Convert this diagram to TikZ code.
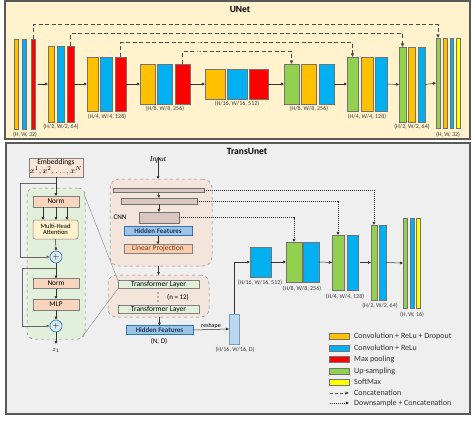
\documentclass[tikz,border=0pt]{standalone}
\usepackage{fontspec}
\setmainfont{Carlito}
\newfontfamily\serifit{Liberation Serif}
\usetikzlibrary{arrows.meta}
\definecolor{cor}{HTML}{FFC000}
\definecolor{cbl}{HTML}{00B0F0}
\definecolor{cre}{HTML}{FF0000}
\definecolor{cgr}{HTML}{92D050}
\definecolor{cye}{HTML}{FFFF00}
\definecolor{unetbg}{HTML}{FFF2CC}
\definecolor{tubg}{HTML}{EFEFEF}
\definecolor{pan}{HTML}{595959}
\definecolor{peach}{HTML}{F8CBAD}
\definecolor{lpeach}{HTML}{FBE5D6}
\definecolor{contbg}{HTML}{F3E4DC}
\definecolor{lgreen}{HTML}{E2EFDA}
\definecolor{tlgreen}{HTML}{E2F0D9}
\definecolor{lyel}{HTML}{FFF2CC}
\definecolor{hfblue}{HTML}{9DC3E6}
\definecolor{rblue}{HTML}{BDD7EE}
\definecolor{plusbl}{HTML}{DDEBF7}
\definecolor{plusdr}{HTML}{2E75B6}
\definecolor{cnnbar}{HTML}{D9C6C0}
\definecolor{hftext}{HTML}{1F3864}
\definecolor{lptext}{HTML}{843C0C}
\newcommand\myfs[1]{\fontsize{#1pt}{#1pt}\selectfont}
\newcommand\mkbar[6]{\node[bar,fill=#6,minimum width={(#4-#2)*1pt},minimum height={(#5-#3)*1pt}] (#1) at ({(#2+#4)/2},{(#3+#5)/2}) {};}
\begin{document}
\begin{tikzpicture}[x=1pt,y=-1pt,
  bar/.style={draw=black!55,line width=0.4pt,inner sep=0pt,outer sep=0pt},
  panel/.style={draw=pan,line width=1.5pt,inner sep=0pt,outer sep=0pt},
  lbl/.style={font=\myfs{6},text=black!75,inner sep=0pt},
  leg/.style={font=\myfs{8},text=black!80,inner sep=0pt,anchor=west},
  arr/.style={draw=black!80,line width=0.5pt,-{Triangle[length=3pt,width=2.6pt]}},
  concat/.style={draw=black!70,line width=1pt,dash pattern=on 4pt off 2.5pt,-{Triangle[length=3.5pt,width=3pt]}},
  dsc/.style={draw=black!80,line width=0.7pt,dash pattern=on 1.2pt off 0.8pt,-{Triangle[length=3.2pt,width=2.8pt]}},
  box/.style={draw=black!50,line width=0.5pt,inner sep=0pt,outer sep=0pt,align=center},
  cont/.style={draw=black!45,dashed,rounded corners=7pt,line width=0.5pt,inner sep=0pt,outer sep=0pt},
  dotc/.style={circle,fill=black,inner sep=0pt,minimum size=1.3pt},
  diag/.style={draw=black!45,line width=0.4pt}]
\useasboundingbox (0,0) rectangle (474,428);
% ---------------- UNet panel
\node[panel,fill=unetbg,minimum width=465pt,minimum height=138pt] (P1) at (237.5,70) {};
\node[font=\bfseries\myfs{9.5},inner sep=0pt] (t1) at (240,9) {UNet};
\mkbar{u1a}{14}{39}{18}{129}{cor}
\mkbar{u1b}{22}{39}{26}{129}{cbl}
\mkbar{u1c}{31}{39}{35}{129}{cre}
\mkbar{u2a}{48}{46}{54}{122}{cor}
\mkbar{u2b}{57}{46}{64}{122}{cbl}
\mkbar{u2c}{67}{46}{74}{122}{cre}
\mkbar{u3a}{87}{57}{98}{111}{cor}
\mkbar{u3b}{100}{57}{112}{111}{cbl}
\mkbar{u3c}{115}{57}{126}{111}{cre}
\mkbar{u4a}{140}{64}{155}{104}{cor}
\mkbar{u4b}{157}{64}{172}{104}{cbl}
\mkbar{u4c}{175}{64}{190}{104}{cre}
\mkbar{u5a}{205}{69}{225}{99}{cor}
\mkbar{u5b}{227}{69}{247}{99}{cbl}
\mkbar{u5c}{249}{69}{268}{99}{cre}
\mkbar{u6a}{284}{64}{299}{104}{cgr}
\mkbar{u6b}{301}{64}{316}{104}{cor}
\mkbar{u6c}{319}{64}{334}{104}{cbl}
\mkbar{u7a}{347}{57}{358}{111}{cgr}
\mkbar{u7b}{361}{57}{373}{111}{cor}
\mkbar{u7c}{375}{57}{387}{111}{cbl}
\mkbar{u8a}{399}{47}{406}{122}{cgr}
\mkbar{u8b}{408}{47}{415}{122}{cor}
\mkbar{u8c}{418}{47}{425}{122}{cbl}
\mkbar{u9a}{436}{38}{440}{128}{cgr}
\mkbar{u9b}{443}{38}{447}{128}{cor}
\mkbar{u9c}{450}{38}{453}{128}{cbl}
\mkbar{u9d}{456}{38}{460}{128}{cye}
\draw[arr,shorten <=3pt] (u1c.east) -- (u2a.west);
\draw[arr] (u2c.east) -- (u3a.west);
\draw[arr] (u3c.east) -- (u4a.west);
\draw[arr] (u4c.east) -- (u5a.west);
\draw[arr] (u5c.east) -- (u6a.west);
\draw[arr] (u6c.east) -- (u7a.west);
\draw[arr] (u7c.east) -- (u8a.west);
\draw[arr] (u8c.east) -- (u9a.west);
\node[lbl] (l1) at (25,135) {(H, W, 32)};
\node[lbl] (l2) at (61,127) {(H/2, W/2, 64)};
\node[lbl] (l3) at (107,117) {(H/4, W/4, 128)};
\node[lbl] (l4) at (165,109) {(H/8, W/8, 256)};
\node[lbl] (l5) at (237,104) {(H/16, W/16, 512)};
\node[lbl] (l6) at (309,109) {(H/8, W/8, 256)};
\node[lbl] (l7) at (367,117) {(H/4, W/4, 128)};
\node[lbl] (l8) at (412,127) {(H/2, W/2, 64)};
\node[lbl] (l9) at (448,135) {(H, W, 32)};
\coordinate (c1) at (200,25);
\coordinate (c2) at (200,34);
\coordinate (c3) at (200,43);
\coordinate (c4) at (200,52);
\draw[concat] (u1c.north) |- (c1) -| (u9a.north);
\draw[concat] (u2c.north) |- (c2) -| (u8a.north);
\draw[concat] (u3c.north) |- (c3) -| (u7a.north);
\draw[concat] (u4c.north) |- (c4) -| (u6a.north);
% ---------------- TransUnet panel
\node[panel,fill=tubg,minimum width=464pt,minimum height=271pt] (P2) at (238,278.5) {};
\node[font=\bfseries\myfs{9.5},inner sep=0pt] (t2) at (247,151) {TransUnet};
% left column: transformer layer detail
\node[box,fill=lpeach,minimum width=54pt,minimum height=19pt,font=\myfs{7.5}] (emb) at (56,167.5) {Embeddings\\[-0.5pt]{\myfs{8.5}$x^1, x^2, \dots, x^N$}};
\node[cont,fill=lgreen,minimum width=58pt,minimum height=151pt] (gcont) at (56,263.5) {};
\node[box,fill=peach!80,minimum width=46pt,minimum height=11pt,font=\myfs{7.3}] (n1) at (56,201.5) {Norm};
\node[box,fill=lyel,rounded corners=2pt,minimum width=45pt,minimum height=19pt,font=\myfs{6.5}] (mha) at (55.5,229.5) {Multi-Head\\Attention};
\node[circle,draw=plusdr,fill=plusbl,line width=0.6pt,minimum size=12pt,inner sep=0pt,font=\myfs{9}] (p1) at (56,257) {$+$};
\node[box,fill=peach!80,minimum width=46pt,minimum height=10pt,font=\myfs{7.3}] (n2) at (56,283.5) {Norm};
\node[box,fill=peach!80,minimum width=46pt,minimum height=11pt,font=\myfs{7.3}] (mlp) at (56,304.5) {MLP};
\node[circle,draw=plusdr,fill=plusbl,line width=0.6pt,minimum size=12pt,inner sep=0pt,font=\myfs{9}] (p2) at (56,326) {$+$};
\coordinate (zend) at (56,344);
\node[font=\myfs{7.5},inner sep=0pt] (z1) at (56,350) {$z_1$};
\draw[arr] (emb.south) -- (n1.north);
\draw[arr] ([xshift=-13pt]n1.south) -- ([xshift=-12.5pt]mha.north);
\draw[arr] (n1.south) -- ([xshift=0.5pt]mha.north);
\draw[arr] ([xshift=11pt]n1.south) -- ([xshift=11.5pt]mha.north);
\draw[arr] (mha.south) -- (p1.north);
\draw[arr] (p1.south) -- (n2.north);
\draw[arr] (n2.south) -- (mlp.north);
\draw[arr] (mlp.south) -- (p2.north);
\draw[arr] (p2.south) -- (zend);
\coordinate (br1) at (56,183);
\coordinate (lf1) at (20,183);
\coordinate (br2) at (56,268);
\coordinate (lf2) at (22,268);
\draw[arr,draw=black!60] (br1) -- (lf1) |- (p1.west);
\draw[arr,draw=black!60] (br2) -- (lf2) |- (p2.west);
% middle column: CNN + transformer
\node[font=\serifit\itshape\myfs{7.5},inner sep=0pt] (inp) at (158,160) {Input};
\node[cont,fill=contbg,rounded corners=9pt,minimum width=102pt,minimum height=87pt] (cnnc) at (161,222.5) {};
\draw[arr] ([yshift=6pt]inp.south) -- (inp.south |- cnnc.north);
\mkbar{b1}{113}{188}{204}{192}{cnnbar}
\mkbar{b2}{121}{198}{197}{204}{cnnbar}
\mkbar{b3}{139}{212}{179}{223}{cnnbar}
\draw[arr] (b1.south) -- (b2.north);
\draw[arr] (b2.south) -- (b3.north);
\node[font=\myfs{7},inner sep=0pt] (cnnl) at (120,217) {CNN};
\node[box,fill=hfblue,draw=plusdr,minimum width=68pt,minimum height=9pt,font=\bfseries\myfs{7},text=hftext] (hf1) at (158,231) {Hidden Features};
\node[box,fill=peach,minimum width=68pt,minimum height=9pt,font=\myfs{7.5},text=lptext] (lp) at (158,249) {Linear Projection};
\draw[arr] (hf1.south) -- (lp.north);
\node[cont,fill=contbg,rounded corners=8pt,minimum width=101pt,minimum height=42pt] (tc) at (158.5,296) {};
\draw[arr] (cnnc.south -| tc.north) -- (tc.north);
\node[box,fill=tlgreen,minimum width=81pt,minimum height=8pt,font=\myfs{7.5}] (tl1) at (158.5,284.5) {Transformer Layer};
\node[dotc] (vd1) at (158,293) {};
\node[dotc] (vd2) at (158,297) {};
\node[dotc] (vd3) at (158,301) {};
\node[inner sep=0pt,font=\myfs{7}] (nn) at (178,297) {(n = 12)};
\node[box,fill=tlgreen,minimum width=81pt,minimum height=8pt,font=\myfs{7.5}] (tl2) at (158.5,309.5) {Transformer Layer};
\node[box,fill=hfblue,draw=plusdr,minimum width=67pt,minimum height=9pt,font=\bfseries\myfs{7},text=hftext] (hf2) at (159.5,330) {Hidden Features};
\draw[arr] (tc.south -| hf2.north) -- (hf2.north);
\node[inner sep=0pt,font=\myfs{7}] (nd) at (159,341) {(N, D)};
\node[box,fill=rblue,draw=plusdr!70,minimum width=10pt,minimum height=30pt] (rb) at (234,329) {};
\draw[arr] (hf2.east) -- node[above=1pt,font=\myfs{6},inner sep=0pt] {reshape} (rb.west);
\node[lbl] (rbl) at (235,350) {(H/16, W/16, D)};
\coordinate (dgA) at (84,194);
\coordinate (dgB) at (82,337);
\draw[diag] (dgA) -- (tl1.north west);
\draw[diag] (dgB) -- (tl1.south west);
% decoder
\mkbar{d1}{250}{247}{271}{277}{cbl}
\mkbar{d2a}{286}{242}{302}{282}{cgr}
\mkbar{d2b}{303}{242}{319}{282}{cbl}
\mkbar{d3a}{332}{235}{344}{290}{cgr}
\mkbar{d3b}{347}{235}{358}{290}{cbl}
\mkbar{d4a}{371}{225}{377}{300}{cgr}
\mkbar{d4b}{379}{225}{386}{300}{cbl}
\mkbar{d5a}{403}{218}{407}{308}{cgr}
\mkbar{d5b}{410}{218}{414}{308}{cbl}
\mkbar{d5c}{416}{218}{420}{308}{cye}
\draw[arr] (rb.north) |- (d1.west);
\draw[arr] (d1.east) -- (d2a.west);
\draw[arr] (d2b.east) -- (d3a.west);
\draw[arr,shorten <=2pt] (d3b.east) -- (d4a.west);
\draw[arr] (d4b.east) -- (d5a.west);
\node[lbl] (dl1) at (260,283) {(H/16, W/16, 512)};
\node[lbl] (dl2) at (302,289) {(H/8, W/8, 256)};
\node[lbl] (dl3) at (345,297) {(H/4, W/4, 128)};
\node[lbl] (dl4) at (380,306) {(H/2, W/2, 64)};
\node[lbl] (dl5) at (412,315) {(H, W, 16)};
\draw[dsc] (b1.east) -| (d4a.north);
\draw[dsc] (b2.east) -| (d3a.north);
\draw[dsc] (b3.east) -| (d2a.north);
% legend
\mkbar{lg1}{329}{333}{349}{339}{cor}
\mkbar{lg2}{329}{345}{349}{351}{cbl}
\mkbar{lg3}{329}{356}{349}{362}{cre}
\mkbar{lg4}{329}{368}{349}{374}{cgr}
\mkbar{lg5}{329}{379}{349}{385}{cye}
\node[leg] (lt1) at (354,336) {Convolution + ReLu + Dropout};
\node[leg] (lt2) at (354,348) {Convolution + ReLu};
\node[leg] (lt3) at (354,359) {Max pooling};
\node[leg] (lt4) at (354,371) {Up-sampling};
\node[leg] (lt5) at (354,382) {SoftMax};
\coordinate (lc1) at (330,393);
\coordinate (lc2) at (349,393);
\coordinate (ld1) at (330,403);
\coordinate (ld2) at (349,403);
\draw[concat,line width=0.8pt,dash pattern=on 3pt off 2pt] (lc1) -- (lc2);
\draw[dsc] (ld1) -- (ld2);
\node[leg] (lt6) at (354,393) {Concatenation};
\node[leg] (lt7) at (354,403) {Downsample + Concatenation};
\end{tikzpicture}
\end{document}
